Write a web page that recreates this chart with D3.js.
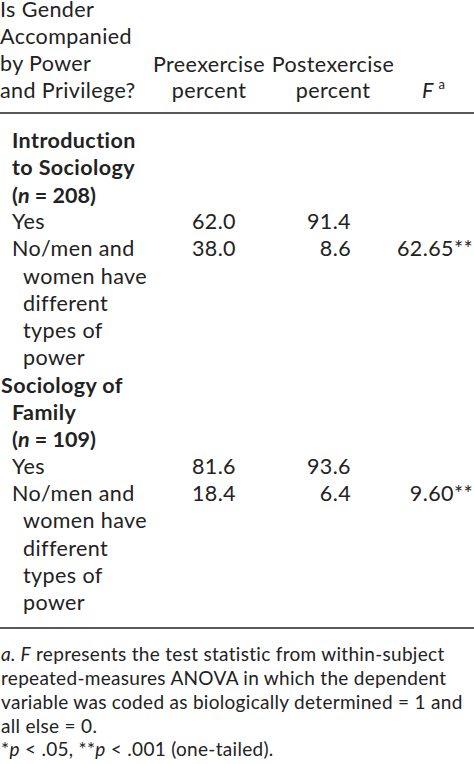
<!DOCTYPE html>
<html><head><meta charset="utf-8">
<script src="https://cdn.jsdelivr.net/npm/d3@7"></script>
<style>body{margin:0;background:#fff}text{font-family:Lato,"Open Sans",sans-serif;fill:#222}</style>
</head><body><svg id="c" width="474" height="764"></svg>
<script>
const headerLabel = ["Is Gender","Accompanied","by Power","and Privilege?"];
const columns = ["Preexercise percent","Postexercise percent","F"];
const groups = [
  {title:["Introduction","to Sociology"], n:"208"},
  {title:["Sociology of","Family"], n:"109"}
];
const rowLabels = [["Yes"],["No/men and","women have","different","types of","power"]];
const pre = [[62.0,38.0],[81.6,18.4]];
const post = [[91.4,8.6],[93.6,6.4]];
const fStat = ["62.65**","9.60**"];
const notes = ["a. F represents the test statistic from within-subject","repeated-measures ANOVA in which the dependent","variable was coded as biologically determined = 1 and","all else = 0.","*p < .05, **p < .001 (one-tailed)."];

const svg = d3.select("#c");
const fs = 21.5, lh = 27.3;
const T = (x,y,s,o={}) => svg.append("text").attr("x",x).attr("y",y).attr("font-size",o.size||fs)
  .attr("letter-spacing",0.4)
  .attr("text-anchor",o.anchor||"start").attr("font-weight",o.bold?"bold":null).text(s);

headerLabel.forEach((s,i)=>T(0,17+i*27,s));
T(209,72,"Preexercise",{anchor:"middle"}); T(209,98,"percent",{anchor:"middle"});
T(333,72,"Postexercise",{anchor:"middle"}); T(333,98,"percent",{anchor:"middle"});
const ft = svg.append("text").attr("x",422).attr("y",98).attr("font-size",fs);
ft.append("tspan").attr("font-style","italic").text("F");
ft.append("tspan").attr("font-size",13).attr("dy",-9).attr("dx",5).text("a");
svg.append("line").attr("x1",0).attr("x2",474).attr("y1",113).attr("y2",113).attr("stroke","#222").attr("stroke-width",1.5);

let y = 148;
groups.forEach((g,gi)=>{
  const tx = gi===0?12:1;
  T(tx,y,g.title[0],{bold:true}); y+=lh;
  T(12,y,g.title[1],{bold:true}); y+=lh;
  const nt = svg.append("text").attr("x",12).attr("y",y).attr("font-size",fs).attr("font-weight","bold");
  nt.append("tspan").text("(");
  nt.append("tspan").attr("font-style","italic").text("n");
  nt.append("tspan").text(" = "+g.n+")");
  y+=lh-1;
  rowLabels.forEach((lines,ri)=>{
    T(236,y,pre[gi][ri].toFixed(1),{anchor:"end"});
    T(351,y,post[gi][ri].toFixed(1),{anchor:"end"});
    if(ri===1) T(473,y,fStat[gi],{anchor:"end"});
    lines.forEach((s,li)=>{T(li===0?12:23,y,s); y+=lh;});
  });
});
svg.append("line").attr("x1",0).attr("x2",474).attr("y1",628).attr("y2",628).attr("stroke","#222").attr("stroke-width",1.5);

const ny=[661,685,709,733,756];
notes.forEach((s,i)=>{
  const t = svg.append("text").attr("x",1).attr("y",ny[i]).attr("font-size",19).attr("letter-spacing",0.3);
  if(i===0){t.append("tspan").attr("font-style","italic").text("a. F");t.append("tspan").text(s.slice(4));}
  else if(i===4){t.append("tspan").text("*");t.append("tspan").attr("font-style","italic").text("p");
    t.append("tspan").text(" < .05, **");t.append("tspan").attr("font-style","italic").text("p");
    t.append("tspan").text(" < .001 (one-tailed).");}
  else t.text(s);
});
</script></body></html>
